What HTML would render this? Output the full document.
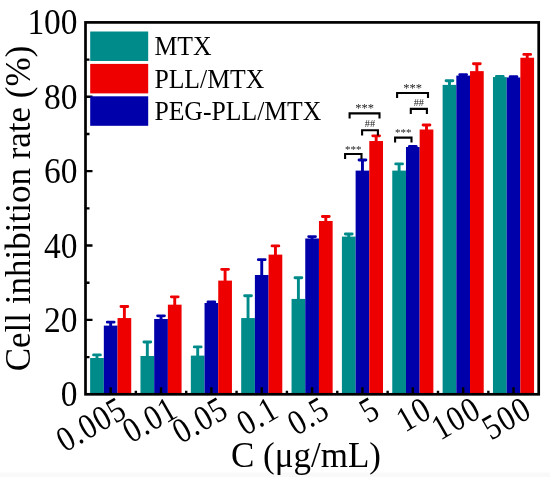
<!DOCTYPE html>
<html lang="en">
<head>
<meta charset="utf-8">
<title>Cell inhibition rate</title>
<style>html,body{margin:0;padding:0;background:#fff}body{width:550px;height:477px;overflow:hidden}</style>
</head>
<body>
<svg width="550" height="477" viewBox="0 0 550 477" style="display:block;font-family:'Liberation Serif',serif">
<rect x="0" y="0" width="550" height="477" fill="#ffffff"/>
<rect x="0" y="472.5" width="550" height="4.5" fill="#f9f9f9"/>
<rect x="90.13" y="358.00" width="13.70" height="36.30" fill="#008B8B"/>
<path d="M96.98 358.50V354.88M93.58 354.88H100.38" stroke="#008B8B" stroke-width="2.9" stroke-linecap="round" fill="none"/>
<rect x="103.83" y="325.61" width="13.70" height="68.69" fill="#0000AA"/>
<path d="M110.68 326.11V322.15M107.28 322.15H114.08" stroke="#0000AA" stroke-width="2.9" stroke-linecap="round" fill="none"/>
<rect x="117.53" y="318.06" width="13.70" height="76.24" fill="#EE0000"/>
<path d="M124.38 318.56V306.53M120.98 306.53H127.78" stroke="#EE0000" stroke-width="2.9" stroke-linecap="round" fill="none"/>
<rect x="140.48" y="355.99" width="13.70" height="38.31" fill="#008B8B"/>
<path d="M147.33 356.49V342.01M143.93 342.01H150.73" stroke="#008B8B" stroke-width="2.9" stroke-linecap="round" fill="none"/>
<rect x="154.18" y="318.99" width="13.70" height="75.31" fill="#0000AA"/>
<path d="M161.03 319.49V315.83M157.63 315.83H164.43" stroke="#0000AA" stroke-width="2.9" stroke-linecap="round" fill="none"/>
<rect x="167.88" y="304.67" width="13.70" height="89.63" fill="#EE0000"/>
<path d="M174.73 305.17V296.86M171.33 296.86H178.13" stroke="#EE0000" stroke-width="2.9" stroke-linecap="round" fill="none"/>
<rect x="190.84" y="355.62" width="13.70" height="38.68" fill="#008B8B"/>
<path d="M197.69 356.12V346.88M194.29 346.88H201.09" stroke="#008B8B" stroke-width="2.9" stroke-linecap="round" fill="none"/>
<rect x="204.54" y="303.00" width="13.70" height="91.30" fill="#0000AA"/>
<path d="M211.39 303.50V302.07M207.99 302.07H214.79" stroke="#0000AA" stroke-width="2.9" stroke-linecap="round" fill="none"/>
<rect x="218.24" y="280.61" width="13.70" height="113.69" fill="#EE0000"/>
<path d="M225.09 281.11V269.34M221.69 269.34H228.49" stroke="#EE0000" stroke-width="2.9" stroke-linecap="round" fill="none"/>
<rect x="241.19" y="318.06" width="13.70" height="76.24" fill="#008B8B"/>
<path d="M248.04 318.56V295.75M244.64 295.75H251.44" stroke="#008B8B" stroke-width="2.9" stroke-linecap="round" fill="none"/>
<rect x="254.89" y="274.99" width="13.70" height="119.31" fill="#0000AA"/>
<path d="M261.74 275.49V259.67M258.34 259.67H265.14" stroke="#0000AA" stroke-width="2.9" stroke-linecap="round" fill="none"/>
<rect x="268.59" y="254.61" width="13.70" height="139.69" fill="#EE0000"/>
<path d="M275.44 255.11V245.91M272.04 245.91H278.84" stroke="#EE0000" stroke-width="2.9" stroke-linecap="round" fill="none"/>
<rect x="291.55" y="298.91" width="13.70" height="95.39" fill="#008B8B"/>
<path d="M298.40 299.41V277.71M295.00 277.71H301.80" stroke="#008B8B" stroke-width="2.9" stroke-linecap="round" fill="none"/>
<rect x="305.25" y="238.47" width="13.70" height="155.83" fill="#0000AA"/>
<path d="M312.10 238.97V236.61M308.70 236.61H315.50" stroke="#0000AA" stroke-width="2.9" stroke-linecap="round" fill="none"/>
<rect x="318.95" y="220.99" width="13.70" height="173.31" fill="#EE0000"/>
<path d="M325.80 221.49V216.53M322.40 216.53H329.20" stroke="#EE0000" stroke-width="2.9" stroke-linecap="round" fill="none"/>
<rect x="341.91" y="236.61" width="13.70" height="157.69" fill="#008B8B"/>
<path d="M348.76 237.11V234.01M345.36 234.01H352.16" stroke="#008B8B" stroke-width="2.9" stroke-linecap="round" fill="none"/>
<rect x="355.61" y="170.60" width="13.70" height="223.70" fill="#0000AA"/>
<path d="M362.46 171.10V160.00M359.06 160.00H365.86" stroke="#0000AA" stroke-width="2.9" stroke-linecap="round" fill="none"/>
<rect x="369.31" y="141.04" width="13.70" height="253.26" fill="#EE0000"/>
<path d="M376.16 141.54V135.83M372.76 135.83H379.56" stroke="#EE0000" stroke-width="2.9" stroke-linecap="round" fill="none"/>
<rect x="392.26" y="170.60" width="13.70" height="223.70" fill="#008B8B"/>
<path d="M399.11 171.10V163.91M395.71 163.91H402.51" stroke="#008B8B" stroke-width="2.9" stroke-linecap="round" fill="none"/>
<rect x="405.96" y="146.99" width="13.70" height="247.31" fill="#0000AA"/>
<path d="M412.81 147.49V146.43M409.41 146.43H416.21" stroke="#0000AA" stroke-width="2.9" stroke-linecap="round" fill="none"/>
<rect x="419.66" y="129.51" width="13.70" height="264.79" fill="#EE0000"/>
<path d="M426.51 130.01V125.04M423.11 125.04H429.91" stroke="#EE0000" stroke-width="2.9" stroke-linecap="round" fill="none"/>
<rect x="442.62" y="84.88" width="13.70" height="309.42" fill="#008B8B"/>
<path d="M449.47 85.38V80.79M446.07 80.79H452.87" stroke="#008B8B" stroke-width="2.9" stroke-linecap="round" fill="none"/>
<rect x="456.32" y="75.58" width="13.70" height="318.72" fill="#0000AA"/>
<path d="M463.17 76.08V74.65M459.77 74.65H466.57" stroke="#0000AA" stroke-width="2.9" stroke-linecap="round" fill="none"/>
<rect x="470.02" y="71.12" width="13.70" height="323.18" fill="#EE0000"/>
<path d="M476.87 71.62V63.68M473.47 63.68H480.27" stroke="#EE0000" stroke-width="2.9" stroke-linecap="round" fill="none"/>
<rect x="492.97" y="77.07" width="13.70" height="317.23" fill="#008B8B"/>
<path d="M499.82 77.57V76.33M496.42 76.33H503.22" stroke="#008B8B" stroke-width="2.9" stroke-linecap="round" fill="none"/>
<rect x="506.67" y="77.44" width="13.70" height="316.86" fill="#0000AA"/>
<path d="M513.52 77.94V76.70M510.12 76.70H516.92" stroke="#0000AA" stroke-width="2.9" stroke-linecap="round" fill="none"/>
<rect x="520.37" y="57.73" width="13.70" height="336.57" fill="#EE0000"/>
<path d="M527.22 58.23V54.38M523.82 54.38H530.62" stroke="#EE0000" stroke-width="2.9" stroke-linecap="round" fill="none"/>
<rect x="85.5" y="22.4" width="453.20" height="371.90" fill="none" stroke="#000" stroke-width="2.7"/>
<path d="M85.5 357.11h4M85.5 319.92h7M85.5 282.73h4M85.5 245.54h7M85.5 208.35h4M85.5 171.16h7M85.5 133.97h4M85.5 96.78h7M85.5 59.59h4M110.68 394.3v-7M161.03 394.3v-7M135.86 394.3v-3.5M211.39 394.3v-7M186.21 394.3v-3.5M261.74 394.3v-7M236.57 394.3v-3.5M312.10 394.3v-7M286.92 394.3v-3.5M362.46 394.3v-7M337.28 394.3v-3.5M412.81 394.3v-7M387.63 394.3v-3.5M463.17 394.3v-7M437.99 394.3v-3.5M513.52 394.3v-7M488.34 394.3v-3.5" stroke="#000" stroke-width="2.4" fill="none"/>
<text transform="translate(77.6 406.30) scale(1 1.06)" font-size="33.5" text-anchor="end">0</text>
<text transform="translate(77.6 331.92) scale(1 1.06)" font-size="33.5" text-anchor="end">20</text>
<text transform="translate(77.6 257.54) scale(1 1.06)" font-size="33.5" text-anchor="end">40</text>
<text transform="translate(77.6 183.16) scale(1 1.06)" font-size="33.5" text-anchor="end">60</text>
<text transform="translate(77.6 108.78) scale(1 1.06)" font-size="33.5" text-anchor="end">80</text>
<text transform="translate(77.6 34.40) scale(1 1.06)" font-size="33.5" text-anchor="end">100</text>
<text transform="translate(129.28 415.7) rotate(-30) scale(0.94 1.09)" font-size="32.4" letter-spacing="1.23" text-anchor="end">0.005</text>
<text transform="translate(179.73 415.7) rotate(-30) scale(0.94 1.09)" font-size="32.4" letter-spacing="0.73" text-anchor="end">0.01</text>
<text transform="translate(230.59 415.7) rotate(-30) scale(0.94 1.09)" font-size="32.4" letter-spacing="1.03" text-anchor="end">0.05</text>
<text transform="translate(280.94 415.7) rotate(-30) scale(0.94 1.09)" font-size="32.4" letter-spacing="1.03" text-anchor="end">0.1</text>
<text transform="translate(331.70 415.7) rotate(-30) scale(0.94 1.09)" font-size="32.4" letter-spacing="1.03" text-anchor="end">0.5</text>
<text transform="translate(382.26 415.7) rotate(-30) scale(0.94 1.09)" font-size="32.4" letter-spacing="1.03" text-anchor="end">5</text>
<text transform="translate(434.61 415.7) rotate(-30) scale(0.94 1.09)" font-size="32.4" letter-spacing="2.03" text-anchor="end">10</text>
<text transform="translate(483.77 415.7) rotate(-30) scale(0.94 1.09)" font-size="32.4" letter-spacing="1.63" text-anchor="end">100</text>
<text transform="translate(534.22 415.7) rotate(-30) scale(0.94 1.09)" font-size="32.4" letter-spacing="1.53" text-anchor="end">500</text>
<text x="306" y="466.6" font-size="35" text-anchor="middle">C (μg/mL)</text>
<text transform="translate(30 208.5) rotate(-90)" font-size="35" text-anchor="middle">Cell inhibition rate (%)</text>
<rect x="90.2" y="31.50" width="58" height="29.5" fill="#008B8B"/>
<text transform="translate(154.4 55.30) scale(1 1.04)" font-size="25.7">MTX</text>
<rect x="90.2" y="63.90" width="58" height="29.5" fill="#EE0000"/>
<text transform="translate(154.4 87.70) scale(1 1.04)" font-size="25.7">PLL/MTX</text>
<rect x="90.2" y="96.30" width="58" height="29.5" fill="#0000AA"/>
<text transform="translate(154.4 120.10) scale(1 1.04)" font-size="25.7">PEG-PLL/MTX</text>
<path d="M345.1 159.0V154.0H361.5V159.0" stroke="#000" stroke-width="2.1" fill="none"/>
<text fill="#222" x="353.30" y="152.60" font-size="11" text-anchor="middle">***</text>
<path d="M362.1 135.39999999999998V130.2H377.9V135.39999999999998" stroke="#000" stroke-width="2.1" fill="none"/>
<text fill="#222" x="370.00" y="127.10" font-size="10.3" text-anchor="middle">##</text>
<path d="M349.6 118.4V113.4H379.5V118.4" stroke="#000" stroke-width="2.1" fill="none"/>
<text fill="#222" x="364.55" y="112.20" font-size="12.5" text-anchor="middle">***</text>
<path d="M395.1 142.6V137.6H411.5V142.6" stroke="#000" stroke-width="2.1" fill="none"/>
<text fill="#222" x="403.30" y="136.20" font-size="11" text-anchor="middle">***</text>
<path d="M410.8 114.10000000000001V108.9H426.9V114.10000000000001" stroke="#000" stroke-width="2.1" fill="none"/>
<text fill="#222" x="418.85" y="105.80" font-size="10.3" text-anchor="middle">##</text>
<path d="M397.1 98.0V93.0H428.0V98.0" stroke="#000" stroke-width="2.1" fill="none"/>
<text fill="#222" x="412.55" y="91.80" font-size="12.5" text-anchor="middle">***</text>
</svg>
</body>
</html>
